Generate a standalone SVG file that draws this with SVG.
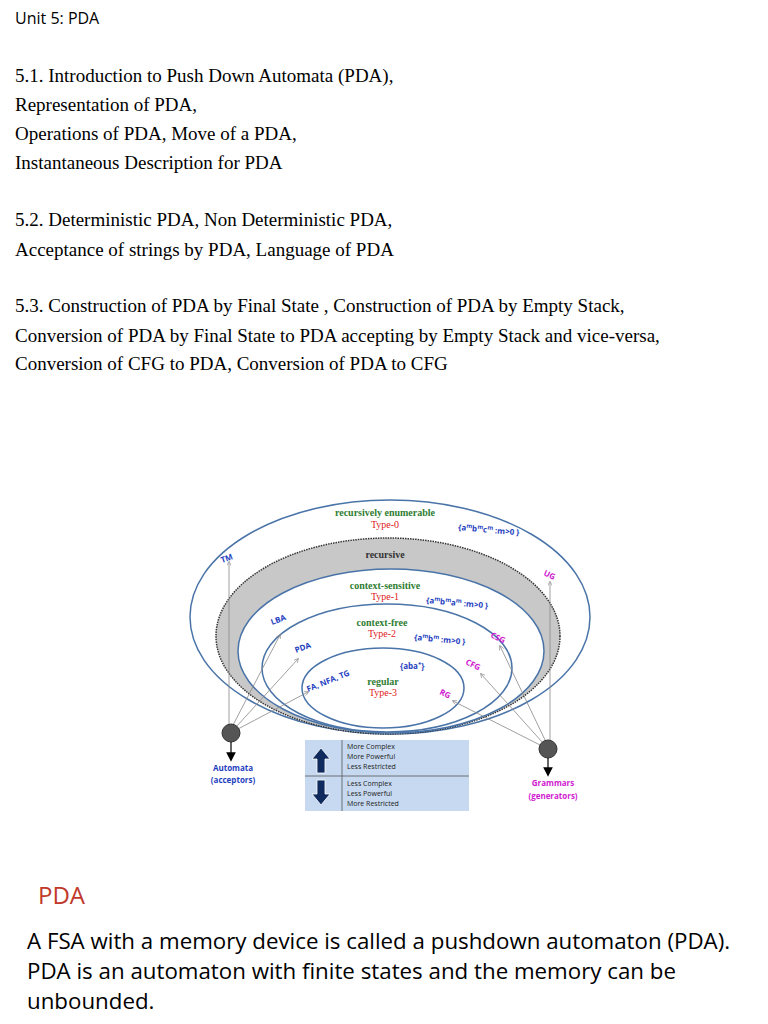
<svg xmlns="http://www.w3.org/2000/svg" width="768" height="1024" viewBox="0 0 768 1024">
<style>
.s{font-family:"Liberation Serif",serif;font-size:19px;fill:#000}
.c{font-family:"Open Sans","Liberation Sans",sans-serif}
.g{font-family:"Liberation Serif",serif;font-size:10px;font-weight:bold;fill:#2e7d32}
.r{font-family:"Liberation Serif",serif;font-size:10px;fill:#e02020}
.b{font-family:"Open Sans",sans-serif;font-size:8px;font-weight:bold;fill:#1f3fbf}
.m{font-family:"Open Sans",sans-serif;font-size:8px;font-weight:bold;fill:#d020d0}
.e{stroke:#4a74a8;stroke-width:1.5}
.l{stroke:#888;stroke-width:0.8;fill:none;marker-end:url(#a)}
.bx{font-family:"Open Sans",sans-serif;font-size:7px;fill:#222}
</style>
<defs><marker id="a" markerWidth="6" markerHeight="6" refX="5" refY="3" orient="auto"><path d="M0,0L6,3L0,6" fill="none" stroke="#888" stroke-width="0.8"/></marker>
<marker id="k" markerWidth="8" markerHeight="8" refX="4" refY="4" orient="auto"><path d="M0,0L8,4L0,8z" fill="#000"/></marker></defs>
<rect width="768" height="1024" fill="#fff"/>
<text x="15" y="24" class="c" font-size="16">Unit 5: PDA</text>
<text class="s"><tspan x="15" y="82">5.1. Introduction to Push Down Automata (PDA),</tspan><tspan x="15" y="111">Representation of PDA,</tspan><tspan x="15" y="140">Operations of PDA, Move of a PDA,</tspan><tspan x="15" y="169">Instantaneous Description for PDA</tspan>
<tspan x="15" y="226">5.2. Deterministic PDA, Non Deterministic PDA,</tspan><tspan x="15" y="256">Acceptance of strings by PDA, Language of PDA</tspan>
<tspan x="15" y="312">5.3. Construction of PDA by Final State , Construction of PDA by Empty Stack,</tspan><tspan x="15" y="342">Conversion of PDA by Final State to PDA accepting by Empty Stack and vice-versa,</tspan><tspan x="15" y="370">Conversion of CFG to PDA, Conversion of PDA to CFG</tspan></text>
<g id="re"><ellipse class="e" cx="390" cy="617" rx="200" ry="117" fill="#fff"/></g>
<g id="rec"><ellipse cx="388" cy="636" rx="172" ry="98" fill="#c8c8c8" stroke="#333" stroke-dasharray="1.5 1" stroke-width="1.5"/></g>
<g id="cs"><ellipse class="e" cx="391" cy="651" rx="153" ry="82" fill="#fff"/></g>
<g id="cf"><ellipse class="e" cx="387" cy="668" rx="125" ry="64" fill="none"/></g>
<g id="rg"><ellipse class="e" cx="383" cy="688" rx="81" ry="40" fill="none"/></g>
<text x="385" y="516" class="g" text-anchor="middle">recursively enumerable</text>
<text x="385" y="528" class="r" text-anchor="middle">Type-0</text>
<text x="385" y="558" font-family="Liberation Serif,serif" font-size="10" font-weight="bold" fill="#333" text-anchor="middle">recursive</text>
<text x="385" y="589" class="g" text-anchor="middle">context-sensitive</text>
<text x="385" y="600" class="r" text-anchor="middle">Type-1</text>
<text x="382" y="626" class="g" text-anchor="middle">context-free</text>
<text x="382" y="637" class="r" text-anchor="middle">Type-2</text>
<text x="383" y="685" class="g" text-anchor="middle">regular</text>
<text x="383" y="696" class="r" text-anchor="middle">Type-3</text>
<text x="458" y="530" class="b" font-weight="normal" transform="rotate(5 458 530)">{a<tspan font-size="6" dy="-3">m</tspan><tspan dy="3">b</tspan><tspan font-size="6" dy="-3">m</tspan><tspan dy="3">c</tspan><tspan font-size="6" dy="-3">m</tspan><tspan dy="3"> :m&gt;0 }</tspan></text>
<text x="426" y="603" class="b" font-weight="normal" transform="rotate(5 426 603)">{a<tspan font-size="6" dy="-3">m</tspan><tspan dy="3">b</tspan><tspan font-size="6" dy="-3">m</tspan><tspan dy="3">a</tspan><tspan font-size="6" dy="-3">m</tspan><tspan dy="3"> :m&gt;0 }</tspan></text>
<text x="414" y="640" class="b" font-weight="normal" transform="rotate(5 414 640)">{a<tspan font-size="6" dy="-3">m</tspan><tspan dy="3">b</tspan><tspan font-size="6" dy="-3">m</tspan><tspan dy="3"> :m&gt;0 }</tspan></text>
<text x="400" y="669" class="b" font-weight="normal">{aba<tspan font-size="6" dy="-3">*</tspan><tspan dy="3">}</tspan></text>
<g id="auto">
<path class="l" d="M229,725L229,562"/><path class="l" d="M233,725L280,635"/><path class="l" d="M236,727L298,659"/><path class="l" d="M238,729L308,692"/>
<circle cx="231" cy="733" r="9" fill="#555" stroke="#333"/>
<path d="M231,742V757" stroke="#000" stroke-width="1.2" marker-end="url(#k)"/>
<text x="233" y="771" class="b" font-size="9" fill="#3a5fcf" text-anchor="middle" font-weight="normal">Automata</text>
<text x="233" y="783" class="b" font-size="9" fill="#3a5fcf" text-anchor="middle" font-weight="normal">(acceptors)</text>
</g>
<text x="222" y="563" class="b" transform="rotate(-20 222 563)">TM</text>
<text x="272" y="625" class="b" transform="rotate(-20 272 625)">LBA</text>
<text x="296" y="653" class="b" transform="rotate(-20 296 653)">PDA</text>
<text x="308" y="692" class="b" transform="rotate(-22 308 692)">FA, NFA, TG</text>
<text x="543" y="575" class="m" transform="rotate(25 543 575)">UG</text>
<text x="490" y="637" class="m" transform="rotate(25 490 637)">CSG</text>
<text x="465" y="664" class="m" transform="rotate(25 465 664)">CFG</text>
<text x="439" y="694" class="m" transform="rotate(25 439 694)">RG</text>
<g id="gram">
<path class="l" d="M550,740L550,582"/><path class="l" d="M546,742L500,646"/><path class="l" d="M543,743L481,674"/><path class="l" d="M540,745L453,701"/>
<circle cx="548" cy="749" r="9" fill="#555" stroke="#333"/>
<path d="M548,758V772" stroke="#000" stroke-width="1.2" marker-end="url(#k)"/>
<text x="553" y="786" class="m" font-size="9" font-weight="normal" text-anchor="middle">Grammars</text>
<text x="553" y="799" class="m" font-size="9" font-weight="normal" text-anchor="middle">(generators)</text>
</g>
<g id="box">
<rect x="305" y="740" width="164" height="71" fill="#c6d9f0"/>
<line x1="342" y1="740" x2="342" y2="811" stroke="#555" stroke-width="0.8"/>
<line x1="305" y1="776" x2="469" y2="776" stroke="#555" stroke-width="0.8"/>
<path d="M321,748L330,759H325V773H317V759H312Z" fill="#0f2a5c" stroke="#fff" stroke-width="0.8"/>
<path d="M321,805L330,794H325V780H317V794H312Z" fill="#0f2a5c" stroke="#fff" stroke-width="0.8"/>
<text class="bx"><tspan x="347" y="749">More Complex</tspan><tspan x="347" y="759">More Powerful</tspan><tspan x="347" y="769">Less Restricted</tspan><tspan x="347" y="786">Less Complex</tspan><tspan x="347" y="796">Less Powerful</tspan><tspan x="347" y="806">More Restricted</tspan></text>
</g>
<text x="38" y="904" class="c" font-size="24" fill="#c0392b">PDA</text>
<text class="c" font-size="22.3" fill="#000"><tspan x="27" y="949">A FSA with a memory device is called a pushdown automaton (PDA).</tspan><tspan x="27" y="979">PDA is an automaton with finite states and the memory can be</tspan><tspan x="27" y="1009">unbounded.</tspan></text>
</svg>
